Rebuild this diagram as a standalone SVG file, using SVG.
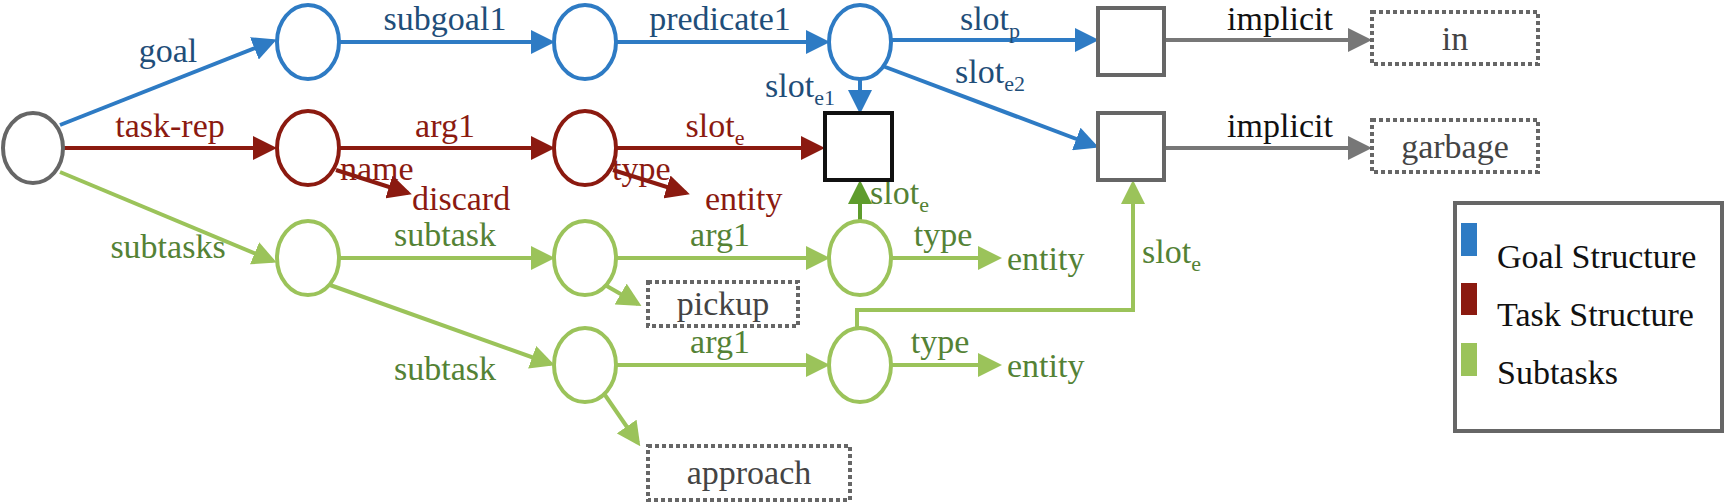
<svg xmlns="http://www.w3.org/2000/svg" width="1726" height="503" viewBox="0 0 1726 503">
<style>
text{font-family:"Liberation Serif",serif;font-size:34px}
.b{fill:#1f4e79}.r{fill:#8b1a10}.g{fill:#548235}.k{fill:#111}.gr{fill:#444}
.m{text-anchor:middle}
.s{font-size:22px}
.cb{fill:#fff;stroke:#2e7bc4;stroke-width:4}
.cr{fill:#fff;stroke:#8b1a10;stroke-width:4}
.cg{fill:#fff;stroke:#9bc35a;stroke-width:4}
.eb{stroke:#2e7bc4;stroke-width:4;fill:none;marker-end:url(#ab)}
.er{stroke:#8b1a10;stroke-width:4;fill:none;marker-end:url(#ar)}
.eg{stroke:#9bc35a;stroke-width:4;fill:none;marker-end:url(#ag)}
.ed{stroke:#5e9c2c;stroke-width:4;fill:none;marker-end:url(#ad)}
.ek{stroke:#777;stroke-width:4;fill:none;marker-end:url(#ak)}
.dot{fill:#fff;stroke:#666;stroke-width:4;stroke-dasharray:4 3}
</style>
<defs>
<marker id="ab" markerWidth="6" markerHeight="6" refX="5" refY="3" orient="auto" markerUnits="strokeWidth"><path d="M0,0L6,3L0,6z" fill="#2e7bc4"/></marker>
<marker id="ar" markerWidth="6" markerHeight="6" refX="5" refY="3" orient="auto" markerUnits="strokeWidth"><path d="M0,0L6,3L0,6z" fill="#8b1a10"/></marker>
<marker id="ag" markerWidth="6" markerHeight="6" refX="5" refY="3" orient="auto" markerUnits="strokeWidth"><path d="M0,0L6,3L0,6z" fill="#9bc35a"/></marker>
<marker id="ad" markerWidth="6" markerHeight="6" refX="5" refY="3" orient="auto" markerUnits="strokeWidth"><path d="M0,0L6,3L0,6z" fill="#5e9c2c"/></marker>
<marker id="ak" markerWidth="6" markerHeight="6" refX="5" refY="3" orient="auto" markerUnits="strokeWidth"><path d="M0,0L6,3L0,6z" fill="#777"/></marker>
</defs>
<g id="connectors">
<path class="eb" d="M60,125L273,41"/>
<path class="eb" d="M339,42L551,42"/>
<path class="eb" d="M616,42L826,42"/>
<path class="eb" d="M891,40L1095,40"/>
<path class="eb" d="M860,79L860,110"/>
<path class="eb" d="M880,65L1095,146"/>
<path class="ek" d="M1164,40L1368,40"/>
<path class="ek" d="M1164,148L1368,148"/>
<path class="er" d="M63,148L273,148"/>
<path class="er" d="M339,148L551,148"/>
<path class="er" d="M616,148L821,148"/>
<path class="er" d="M336,170L408,193"/>
<path class="er" d="M613,170L686,193"/>
<path class="eg" d="M60,172L273,261"/>
<path class="eg" d="M339,258L551,258"/>
<path class="eg" d="M616,258L826,258"/>
<path class="eg" d="M891,258L998,258"/>
<path class="eg" d="M605,285L638,304"/>
<path class="eg" d="M330,285L551,364"/>
<path class="eg" d="M616,365L826,365"/>
<path class="eg" d="M891,365L998,365"/>
<path class="eg" d="M605,395L638,443"/>
<path class="ed" d="M860,221L860,184"/>
<path class="eg" d="M857,328L857,310L1133,310L1133,184"/>
</g>
<g id="labels">
<text class="b m" x="168" y="62">goal</text>
<text class="b m" x="445" y="30">subgoal1</text>
<text class="b m" x="720" y="30">predicate1</text>
<text class="b m" x="990" y="30">slot<tspan class="s" dy="8">p</tspan></text>
<text class="b" x="765" y="97">slot<tspan class="s" dy="8">e1</tspan></text>
<text class="b" x="955" y="83">slot<tspan class="s" dy="8">e2</tspan></text>
<text class="k m" x="1280" y="30">implicit</text>
<text class="k m" x="1280" y="137">implicit</text>
<text class="r m" x="170" y="137">task-rep</text>
<text class="r m" x="445" y="137">arg1</text>
<text class="r m" x="715" y="137">slot<tspan class="s" dy="8">e</tspan></text>
<text class="r" x="340" y="180">name</text>
<text class="r" x="412" y="210">discard</text>
<text class="r" x="612" y="180">type</text>
<text class="r" x="705" y="210">entity</text>
<text class="g m" x="168" y="258">subtasks</text>
<text class="g m" x="445" y="246">subtask</text>
<text class="g m" x="720" y="246">arg1</text>
<text class="g m" x="943" y="246">type</text>
<text class="g" x="1007" y="270">entity</text>
<text class="g" x="870" y="204">slot<tspan class="s" dy="8">e</tspan></text>
<text class="g" x="1142" y="263">slot<tspan class="s" dy="8">e</tspan></text>
<text class="g m" x="445" y="380">subtask</text>
<text class="g m" x="720" y="353">arg1</text>
<text class="g m" x="940" y="353">type</text>
<text class="g" x="1007" y="377">entity</text>
</g>
<g id="root"><ellipse cx="33" cy="148" rx="30" ry="35" fill="#fff" stroke="#666" stroke-width="4"/></g>
<g id="g1"><ellipse class="cb" cx="308" cy="42" rx="31" ry="37"/></g>
<g id="g2"><ellipse class="cb" cx="585" cy="42" rx="31" ry="37"/></g>
<g id="g3"><ellipse class="cb" cx="860" cy="42" rx="31" ry="37"/></g>
<g id="t1"><ellipse class="cr" cx="308" cy="148" rx="31" ry="37"/></g>
<g id="t2"><ellipse class="cr" cx="585" cy="148" rx="31" ry="37"/></g>
<g id="s1"><ellipse class="cg" cx="308" cy="258" rx="31" ry="37"/></g>
<g id="s2"><ellipse class="cg" cx="585" cy="258" rx="31" ry="37"/></g>
<g id="s3"><ellipse class="cg" cx="860" cy="258" rx="31" ry="37"/></g>
<g id="s4"><ellipse class="cg" cx="585" cy="365" rx="31" ry="37"/></g>
<g id="s5"><ellipse class="cg" cx="860" cy="365" rx="31" ry="37"/></g>
<g id="sqBlack"><rect x="825" y="113" width="67" height="67" fill="#fff" stroke="#111" stroke-width="4"/></g>
<g id="sqP"><rect x="1098" y="8" width="66" height="67" fill="#fff" stroke="#666" stroke-width="4"/></g>
<g id="sqE2"><rect x="1098" y="113" width="66" height="67" fill="#fff" stroke="#666" stroke-width="4"/></g>
<g id="in"><rect class="dot" x="1372" y="12" width="166" height="52"/><text class="gr m" x="1455" y="50">in</text></g>
<g id="garbage"><rect class="dot" x="1372" y="120" width="166" height="52"/><text class="gr m" x="1455" y="158">garbage</text></g>
<g id="pickup"><rect class="dot" x="648" y="282" width="150" height="44"/><text class="gr m" x="723" y="315">pickup</text></g>
<g id="approach"><rect class="dot" x="648" y="446" width="202" height="54"/><text class="gr m" x="749" y="484">approach</text></g>
<g id="legend">
<rect x="1455" y="203" width="267" height="228" fill="#fff" stroke="#666" stroke-width="4"/>
<rect x="1461" y="223" width="16" height="33" fill="#2e7bc4"/>
<rect x="1461" y="283" width="16" height="32" fill="#8b1a10"/>
<rect x="1461" y="343" width="16" height="33" fill="#9bc35a"/>
<text class="k" x="1497" y="268">Goal Structure</text>
<text class="k" x="1497" y="326">Task Structure</text>
<text class="k" x="1497" y="384">Subtasks</text>
</g>
</svg>
